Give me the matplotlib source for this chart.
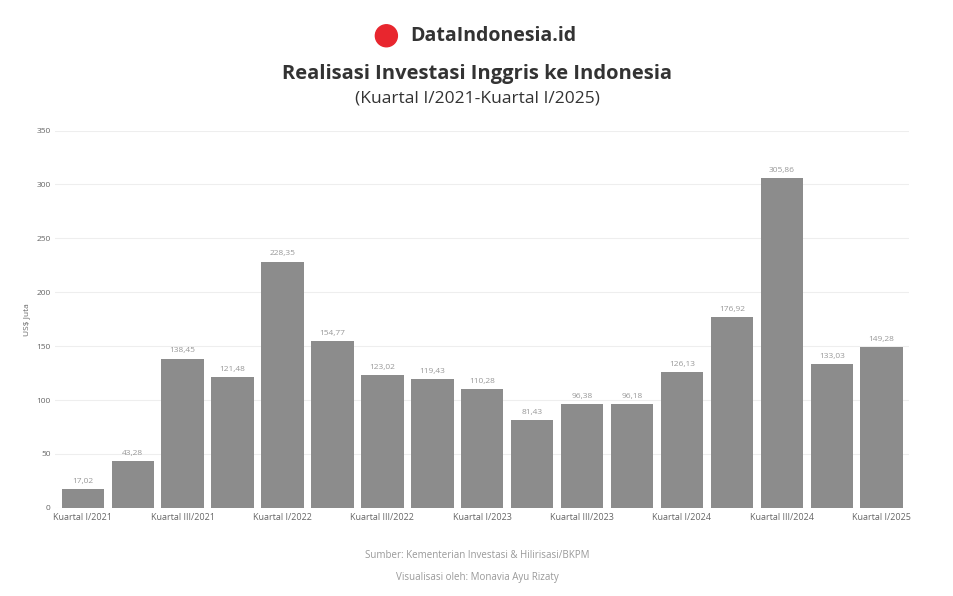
import matplotlib.pyplot as plt
from matplotlib.patches import Ellipse

plt.rcParams["font.family"] = ["Open Sans", "DejaVu Sans"]

quarters = ["Kuartal I/2021", "Kuartal II/2021", "Kuartal III/2021", "Kuartal IV/2021",
            "Kuartal I/2022", "Kuartal II/2022", "Kuartal III/2022", "Kuartal IV/2022",
            "Kuartal I/2023", "Kuartal II/2023", "Kuartal III/2023", "Kuartal IV/2023",
            "Kuartal I/2024", "Kuartal II/2024", "Kuartal III/2024", "Kuartal IV/2024",
            "Kuartal I/2025"]
values = [17.02, 43.28, 138.45, 121.48, 228.35, 154.77, 123.02, 119.43, 110.28,
          81.43, 96.38, 96.18, 126.13, 176.92, 305.86, 133.03, 149.28]

fig = plt.figure(figsize=(9.54, 5.96), dpi=100, facecolor="white")
ax = fig.add_axes([0.058, 0.148, 0.895, 0.633])

x = range(len(values))
ax.bar(x, values, width=0.85, color="#8c8c8c", zorder=2)
for i, v in enumerate(values):
    ax.text(i, v + 4, f"{v:.2f}".replace(".", ","), ha="center", va="bottom",
            fontsize=6, color="#999999")

ax.set_xlim(-0.55, len(values) - 0.45)
ax.set_ylim(0, 350)
ax.set_yticks(range(0, 351, 50))
ax.tick_params(axis="y", labelsize=6, colors="#666666", length=0)
ax.set_xticks(list(x)[::2])
ax.set_xticklabels(quarters[::2], fontsize=6.5, color="#666666")
ax.tick_params(axis="x", length=0, pad=4)
ax.set_ylabel("US$ Juta", fontsize=6, color="#666666")
ax.yaxis.grid(True, color="#eeeeee", linewidth=0.8, zorder=0)
for s in ax.spines.values():
    s.set_visible(False)

# header
fig.patches.append(Ellipse((0.405, 0.94), 22 / 954, 22 / 596, transform=fig.transFigure,
                           color="#e8262e", figure=fig))
fig.text(0.43, 0.94, "DataIndonesia.id", ha="left", va="center", fontsize=14,
         fontweight="bold", color="#333333")
fig.text(0.5, 0.876, "Realisasi Investasi Inggris ke Indonesia", ha="center",
         va="center", fontsize=14.5, fontweight="bold", color="#333333")
fig.text(0.5, 0.834, "(Kuartal I/2021-Kuartal I/2025)", ha="center", va="center",
         fontsize=12.5, color="#333333")

fig.text(0.5, 0.063, "Sumber: Kementerian Investasi & Hilirisasi/BKPM", ha="center",
         fontsize=7, color="#999999")
fig.text(0.5, 0.027, "Visualisasi oleh: Monavia Ayu Rizaty", ha="center",
         fontsize=7, color="#999999")

fig.savefig("out.png", dpi=100)
